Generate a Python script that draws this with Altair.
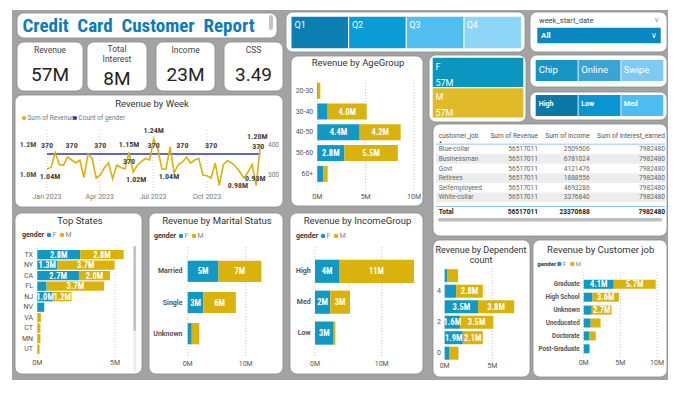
import altair as alt
import pandas as pd

# ---------------- data ----------------
kpi_names = ["Revenue", "Total\nInterest", "Income", "CSS"]
kpi_values = ["57M", "8M", "23M", "3.49"]

week_rev = [1.04, 1.05, 1.15, 1.07, 1.065, 1.12, 1.10, 1.08, 1.10, 0.985,
            1.14, 1.11, 0.98, 1.00, 1.05, 1.08, 0.975, 1.065, 1.05, 1.04,
            1.15, 1.02, 1.065, 1.09, 1.11, 1.10, 1.24, 1.175, 1.04, 1.04,
            1.185, 1.015, 1.07, 1.085, 1.12, 1.08, 1.10, 1.11, 1.00, 0.995,
            0.98, 1.08, 0.93, 1.07, 1.095, 1.08, 1.055, 1.02, 0.98, 1.02,
            1.07, 0.93, 1.20]
week_count = [370] * len(week_rev)
week_ticks = ["2023-01-01", "2023-04-01", "2023-07-01", "2023-10-01"]
week_tick_labels = ["Jan 2023", "Apr 2023", "Jul 2023", "Oct 2023"]

states = ["TX", "NY", "CA", "FL", "NJ", "NV", "VA", "CT", "MN", "UT"]
state_f = [2.76, 1.27, 2.68, 0.6, 1.0, 0.45, 0, 0, 0, 0]
state_m = [2.8, 3.7, 2.0, 3.7, 1.2, 0, 0.23, 0.2, 0.2, 0.15]

marital = ["Married", "Single", "Unknown"]
marital_f = [5.3, 2.7, 0.7]
marital_m = [7.4, 5.6, 1.3]

ages = ["20-30", "30-40", "40-50", "50-60", "60+"]
age_f = [0.07, 1.07, 4.38, 2.8, 0.62]
age_m = [0.24, 4.04, 4.24, 5.53, 0.45]

incomes = ["High", "Med", "Low"]
income_f = [3.6, 2.3, 2.8]
income_m = [11.25, 2.95, 0.25]

deps = ["5", "4", "3", "2", "1", "0"]
dep_labels = ["4", "2", "0"]
dep_f = [0.25, 1.2, 3.5, 1.6, 1.9, 0.45]
dep_m = [1.15, 2.8, 3.8, 3.5, 2.1, 1.0]

edu = ["Graduate", "High School", "Unknown", "Uneducated", "Doctorate", "Post-Graduate"]
edu_f = [4.1, 1.2, 1.1, 0.95, 0.8, 0.75]
edu_m = [5.72, 3.6, 2.7, 1.35, 0.85, 0.1]

quarters = ["Q1", "Q2", "Q3", "Q4"]
genders = ["F", "M"]
gender_totals = [57, 57]
card_types = ["Chip", "Online", "Swipe"]
levels = ["High", "Low", "Med"]

jobs = ["Blue-collar", "Businessman", "Govt", "Retirees", "Selfemployeed", "White-collar"]
job_revenue = [56517011, 56517011, 56517011, 56517011, 56517011, 56517011]
job_income = [2509506, 6781024, 4121476, 1888556, 4693286, 3376840]
job_interest = [7982480, 7982480, 7982480, 7982480, 7982480, 7982480]
table_total = ["Total", "56517011", "23370688", "7982480"]

# ---------------- style ----------------
FONT = "Roboto"
NARROW = "Liberation Sans Narrow, Roboto Condensed, Roboto, sans-serif"
BLUE = "#1398c4"
GOLD = "#d9b20b"
OX = OY = 8


def px(x):
    return x - OX


def py(y):
    return y - OY


ONE = alt.Data(values=[{"a": 1}])
layers = []
L = layers.append


def rect(x0, y0, x1, y1, fill, r=0, stroke=None, sw=0):
    kw = dict(fill=fill, cornerRadius=r)
    if stroke:
        kw.update(stroke=stroke, strokeWidth=sw)
    return alt.Chart(ONE).mark_rect(**kw).encode(
        x=alt.value(px(x0)), x2=alt.value(px(x1)), y=alt.value(py(y0)), y2=alt.value(py(y1)))


def text(s, x, y, size=9, color="#333", weight="normal", align="center", font=FONT):
    return alt.Chart(ONE).mark_text(text=s, fontSize=size, color=color, fontWeight=weight,
                                    align=align, baseline="middle", font=font).encode(
        x=alt.value(px(x)), y=alt.value(py(y)))


def dot(x, y, color, size=20):
    return alt.Chart(ONE).mark_point(filled=True, size=size, color=color, opacity=1).encode(
        x=alt.value(px(x)), y=alt.value(py(y)))


def legend(x, y, size=7, w=21):
    L(text("gender", x, y, size=size, color="#333", weight="bold", align="left"))
    L(dot(x + w + 6, y, BLUE))
    L(text("F", x + w + 9.5, y, size=size, color="#888", align="left"))
    L(dot(x + w + 19, y, GOLD))
    L(text("M", x + w + 22.5, y, size=size, color="#888", align="left"))


def stacked(cats, fv, mv, dmax, x0p, x1p, c0, step, pad, fmt, catx, ticks, tick_y,
            gy0, gy1, cat_labels=None, cat_bold=False, thr_px=13, cat_size=7):
    rows = []
    for c, f, m in zip(cats, fv, mv):
        rows.append({"cat": c, "g": "F", "v": f})
        rows.append({"cat": c, "g": "M", "v": m})
    df = pd.DataFrame(rows)
    ppm = (x1p - x0p) / dmax
    thr = thr_px / ppm
    xs = alt.Scale(domain=[0, dmax], range=[px(x0p), px(x1p)], nice=False, zero=False)
    ytop = c0 - step / 2
    ys = alt.Scale(domain=cats, range=[py(ytop), py(ytop + len(cats) * step)],
                   paddingInner=pad, paddingOuter=pad / 2)
    tdf = pd.DataFrame({"t": ticks, "lab": [f"{t}M" for t in ticks]})
    L(alt.Chart(tdf).mark_rule(color="#c8c8c8", strokeDash=[1, 2], strokeWidth=1).encode(
        x=alt.X("t:Q", scale=xs, axis=None), y=alt.value(py(gy0)), y2=alt.value(py(gy1))))
    base = alt.Chart(df).transform_stack(
        stack="v", groupby=["cat"], as_=["v0", "v1"], sort=[alt.SortField("g", order="ascending")])
    L(base.mark_bar().encode(
        y=alt.Y("cat:N", scale=ys, axis=None),
        x=alt.X("v0:Q", scale=xs, axis=None), x2="v1:Q",
        color=alt.Color("g:N", scale=alt.Scale(domain=genders, range=[BLUE, GOLD]), legend=None)))
    L(base.transform_calculate(
        mid="(datum.v0 + datum.v1) / 2", w="datum.v1 - datum.v0",
        lab=f"format(datum.v, '{fmt}') + 'M'").transform_filter(f"datum.w >= {thr}").mark_text(
        color="white", fontWeight="bold", fontSize=8.5, font=NARROW, baseline="middle").encode(
        x=alt.X("mid:Q", scale=xs, axis=None), y=alt.Y("cat:N", scale=ys, axis=None), text="lab:N"))
    labs = cat_labels if cat_labels is not None else cats
    L(alt.Chart(pd.DataFrame({"cat": labs})).mark_text(
        align="right", baseline="middle", fontSize=cat_size, color="#555", font=FONT,
        fontWeight="bold" if cat_bold else "normal").encode(
        y=alt.Y("cat:N", scale=ys, axis=None), x=alt.value(px(catx)), text="cat:N"))
    L(alt.Chart(tdf).mark_text(fontSize=7, color="#555", font=FONT, baseline="middle").encode(
        x=alt.X("t:Q", scale=xs, axis=None), y=alt.value(py(tick_y)), text="lab:N"))


# ---------------- background & cards ----------------
L(rect(12, 10, 668, 380, "#a3a3a3"))
cards = [
    (17, 13, 277, 38), (17, 42, 83, 91), (87, 42, 147, 91), (156, 42, 215, 91), (224, 42, 283, 91),
    (15, 95, 283, 207), (15, 213, 142, 374), (149, 213, 283, 374),
    (286, 12, 525, 52), (291, 56, 423, 206), (290, 213, 423, 374), (429, 55, 526, 122),
    (530, 12, 667, 52), (530, 55, 667, 87), (530, 92, 667, 120),
    (433, 124, 667, 236), (433, 240, 530, 377), (533, 240, 667, 377),
]
for c in cards:
    L(rect(*c, "white", r=7, stroke="#8a8a8a", sw=0.8))

# title
NB = "\u00a0"
L(text(f"Credit{NB} Card{NB} Customer{NB} Report", 22.5, 26, size=19, color="#0b7bbd", weight="bold",
       align="left", font=NARROW))
L(rect(269, 15, 273, 30, "#c4c4c4", r=2))

# KPI cards
kpi_cx = [50, 117, 185.5, 253.5]
for cx, name, val in zip(kpi_cx, kpi_names, kpi_values):
    parts = name.split("\n")
    if len(parts) == 1:
        L(text(parts[0], cx, 50, size=8.5, color="#444"))
        L(text(val, cx, 75, size=19, color="#222"))
    else:
        L(text(parts[0], cx, 48.5, size=8.5, color="#444"))
        L(text(parts[1], cx, 58.5, size=8.5, color="#444"))
        L(text(val, cx, 79, size=19, color="#222"))

# ---------------- Revenue by Week ----------------
L(text("Revenue by Week", 152, 104, size=9.5, color="#333"))
L(dot(24, 118, GOLD, 18))
L(text("Sum of Revenue", 27.5, 118, size=6.5, color="#777", align="left"))
L(dot(75, 118, "#2f35b0", 18))
L(text("Count of gender", 78.5, 118, size=6.5, color="#777", align="left"))

wk = pd.DataFrame({
    "date": [d.strftime("%Y-%m-%d") for d in pd.date_range("2023-01-01", periods=len(week_rev), freq="7D")],
    "i": list(range(len(week_rev))), "rev": week_rev, "cnt": week_count})
wx = alt.Scale(type="utc", domain=[alt.DateTime(year=2023, month=1, date=1, utc=True),
                                   alt.DateTime(year=2023, month=10, date=1, utc=True)],
               range=[px(47), px(207)])
yl = alt.Scale(domain=[1.0, 1.2], range=[py(175), py(145)], nice=False, zero=False)
yc = alt.Scale(domain=[300, 400], range=[py(175), py(145)], nice=False, zero=False)
X = alt.X("date:T", scale=wx, axis=None)

wt = pd.DataFrame({"date": week_ticks, "lab": week_tick_labels})
L(alt.Chart(wt).mark_rule(color="#d0d0d0", strokeDash=[1, 2]).encode(
    x=X, y=alt.value(py(130)), y2=alt.value(py(191))))
L(alt.Chart(wt).mark_text(fontSize=7, color="#777", font=FONT).encode(
    x=X, y=alt.value(py(197)), text="lab:N"))
L(alt.Chart(pd.DataFrame({"v": [1.0, 1.2], "lab": ["1.0M", "1.2M"]})).mark_text(
    fontSize=8, color="#555", font=NARROW, fontWeight="bold").encode(
    y=alt.Y("v:Q", scale=yl, axis=None), x=alt.value(px(28)), text="lab:N"))
L(alt.Chart(pd.DataFrame({"v": [300, 400], "lab": ["300", "400"]})).mark_text(
    fontSize=6.5, color="#777", font=FONT, align="left").encode(
    y=alt.Y("v:Q", scale=yc, axis=None), x=alt.value(px(268)), text="lab:N"))

L(alt.Chart(wk).mark_line(color="#2f35b0", strokeWidth=1.5).encode(
    x=X, y=alt.Y("cnt:Q", scale=yc, axis=None)))
L(alt.Chart(wk).mark_line(color=GOLD, strokeWidth=1.6).encode(
    x=X, y=alt.Y("rev:Q", scale=yl, axis=None)))


def wlabels(idx, field, scale, dy, dx=0, money=True):
    calc = f"format(datum.{field}, '.2f') + 'M'" if money else f"format(datum.{field}, 'd')"
    return alt.Chart(wk).transform_filter(alt.FieldOneOfPredicate(field="i", oneOf=idx)).transform_calculate(
        lab=calc).mark_text(dy=dy, dx=dx, fontSize=8, fontWeight="bold", color="#444", font=NARROW).encode(
        x=X, y=alt.Y(f"{field}:Q", scale=scale, axis=None), text="lab:N")


L(wlabels([0, 6, 13, 26, 33, 40], "cnt", yc, -8, money=False))
L(wlabels([52], "cnt", yc, -7, dx=-2, money=False))
L(wlabels([20], "cnt", yc, 8, money=False))
L(wlabels([20, 26], "rev", yl, -8))
L(wlabels([52], "rev", yl, -8, dx=-3))
L(wlabels([51], "rev", yl, -7, dx=-1))
L(wlabels([0, 21, 29], "rev", yl, 8, dx=3))
L(wlabels([48], "rev", yl, 8, dx=-6))

# ---------------- bar charts ----------------
L(text("Top States", 80, 221, size=9.5, color="#333"))
legend(22, 235)
stacked(states, state_f, state_m, 5, 37.3, 115, 254.7, 10.5, 0.12, ".1f", 33, [0, 5], 363, 245, 357)
L(rect(133.5, 246, 136, 372, "#ececec", r=1))
L(rect(133.5, 246, 136, 331, "#c2c2c2", r=1))

L(text("Revenue by Marital Status", 217, 221, size=9.5, color="#333"))
legend(154, 236)
stacked(marital, marital_f, marital_m, 10, 187.7, 245.7, 271.3, 31.2, 0.32, ".0f", 182.5,
        [0, 10], 363.7, 247, 357, cat_bold=True)

L(text("Revenue by AgeGroup", 358, 63, size=9.5, color="#333"))
stacked(ages, age_f, age_m, 10, 317.3, 414, 90.7, 20.8, 0.23, ".1f", 313.3, [0, 5, 10], 196.7, 83, 190)

L(text("Revenue by IncomeGroup", 357.5, 221, size=9.5, color="#333"))
legend(296, 236)
stacked(incomes, income_f, income_m, 10, 315, 381.7, 271.3, 30.9, 0.25, ".0f", 310.7,
        [0, 10], 363.7, 247, 357, cat_bold=True)

L(text("Revenue by Dependent", 481, 249.5, size=9, color="#333"))
L(text("count", 481, 259.5, size=9, color="#333"))
stacked(deps, dep_f, dep_m, 5, 444.7, 492.3, 275.7, 15.5, 0.16, ".1f", 441,
        [0, 5], 365.7, 268, 360, cat_labels=dep_labels)

L(text("Revenue by Customer job", 600.7, 250, size=9.5, color="#333"))
legend(537.3, 264, size=6, w=16)
stacked(edu, edu_f, edu_m, 10, 583.7, 657, 284.3, 12.9, 0.3, ".1f", 579.7,
        [0, 5, 10], 363.3, 272, 357, cat_bold=True, cat_size=6.3)


# ---------------- slicers ----------------
def tiles(cats, colors, x0, x1, y0, y1, ty, size=9.5, weight="normal", gap=0.02):
    n = len(cats)
    step = (x1 - x0) / n
    xs = alt.Scale(domain=cats, range=[px(x0), px(x1)], paddingInner=gap, paddingOuter=0)
    xp = alt.Scale(type="point", domain=cats, range=[px(x0), px(x0 + (n - 1) * step)], padding=0)
    df = pd.DataFrame({"c": cats})
    L(alt.Chart(df).mark_rect().encode(
        x=alt.X("c:N", scale=xs, axis=None), y=alt.value(py(y0)), y2=alt.value(py(y1)),
        color=alt.Color("c:N", scale=alt.Scale(domain=cats, range=colors), legend=None)))
    L(alt.Chart(df).mark_text(align="left", baseline="middle", dx=3, fontSize=size, fontWeight=weight,
                              color="white", font=FONT).encode(
        x=alt.X("c:N", scale=xp, axis=None), y=alt.value(py(ty)), text="c:N"))


tiles(quarters, ["#0b7fb2", "#0b9bd5", "#52bef0", "#8dd6f7"], 291.5, 521, 16.7, 48.3, 24.5, size=9)
tiles(card_types, ["#1596c2", "#3aa4d4", "#7ecaf5"], 535.7, 663.3, 60, 81, 69.5, size=9.5)
tiles(levels, ["#0b78a8", "#0b95d0", "#4dbcf0"], 535.7, 663.3, 95, 116, 103.5, size=7, weight="bold")

# gender tiles
gy = alt.Scale(domain=genders, range=[py(57.7), py(117.5)], paddingInner=0.04, paddingOuter=0)
gstep = (117.5 - 57.7) / 2
gp = alt.Scale(type="point", domain=genders, range=[py(57.7), py(57.7 + gstep)], padding=0)
gdf = pd.DataFrame({"g": genders, "tot": gender_totals})
L(alt.Chart(gdf).mark_rect().encode(
    y=alt.Y("g:N", scale=gy, axis=None), x=alt.value(px(432.7)), x2=alt.value(px(523.3)),
    color=alt.Color("g:N", scale=alt.Scale(domain=genders, range=["#0a96c1", "#e0ba28"]), legend=None)))
L(alt.Chart(gdf).mark_text(align="left", baseline="middle", dy=9, fontSize=9, color="white", font=FONT).encode(
    y=alt.Y("g:N", scale=gp, axis=None), x=alt.value(px(435.5)), text="g:N"))
L(alt.Chart(gdf).transform_calculate(lab="datum.tot + 'M'").mark_text(
    align="left", baseline="middle", dy=25.5, fontSize=9, color="white", font=FONT).encode(
    y=alt.Y("g:N", scale=gp, axis=None), x=alt.value(px(435.5)), text="lab:N"))

# date slicer
L(text("week_start_date", 539, 20.7, size=7.5, color="#444", align="left"))
L(text("∨", 656, 20, size=7, color="#999"))
L(rect(537.3, 27.7, 660.7, 43.3, "#0a86c0"))
L(text("All", 541, 35.8, size=8, color="white", weight="bold", align="left"))
L(text("∨", 654, 35.5, size=8, color="white"))

# ---------------- table ----------------
TS = 6.6
trow = alt.Scale(domain=jobs, range=[py(144.5), py(144.5 + 6 * 9.6)], paddingInner=0, paddingOuter=0)
tdf = pd.DataFrame({"job": jobs, "rev": job_revenue, "inc": job_income, "int": job_interest,
                    "k": list(range(len(jobs)))})
L(alt.Chart(tdf).transform_filter("datum.k % 2 == 1").mark_rect(color="#ededed").encode(
    y=alt.Y("job:N", scale=trow, axis=None), x=alt.value(px(436)), x2=alt.value(px(665))))
hdr = [("customer_job", 438.7, "left"), ("Sum of Revenue", 538, "right"),
       ("Sum of income", 589.7, "right"), ("Sum of interest_earned", 665, "right")]
for h, x, a in hdr:
    L(text(h, x, 136.2, size=TS, color="#555", align=a))
L(text("▲", 440.5, 141.6, size=3.5, color="#333"))
L(rect(436, 143.8, 665, 144.6, "#79b3e6"))
L(rect(436, 206, 665, 206.8, "#79b3e6"))
for field, x, a, fmt in [("job", 438.7, "left", None), ("rev", 538, "right", "d"),
                         ("inc", 589.7, "right", "d"), ("int", 665, "right", "d")]:
    t = alt.Text(f"{field}:Q", format=fmt) if fmt else alt.Text(f"{field}:N")
    L(alt.Chart(tdf).mark_text(align=a, baseline="middle", fontSize=TS, color="#666", font=FONT).encode(
        y=alt.Y("job:N", scale=trow, axis=None), x=alt.value(px(x)), text=t))
for s, (h, x, a) in zip(table_total, hdr):
    L(text(s, x, 211.5, size=TS, color="#222", weight="bold", align=a))
L(rect(438, 218, 662, 221.5, "#bdbdbd", r=2))

chart = alt.layer(*layers).resolve_scale(
    x="independent", y="independent", color="independent"
).properties(width=664, height=377, autosize=alt.AutoSizeParams(type="none"), padding=0
).configure_view(stroke=None)

chart.save("out.html", embed_options={"renderer": "svg", "actions": False})
